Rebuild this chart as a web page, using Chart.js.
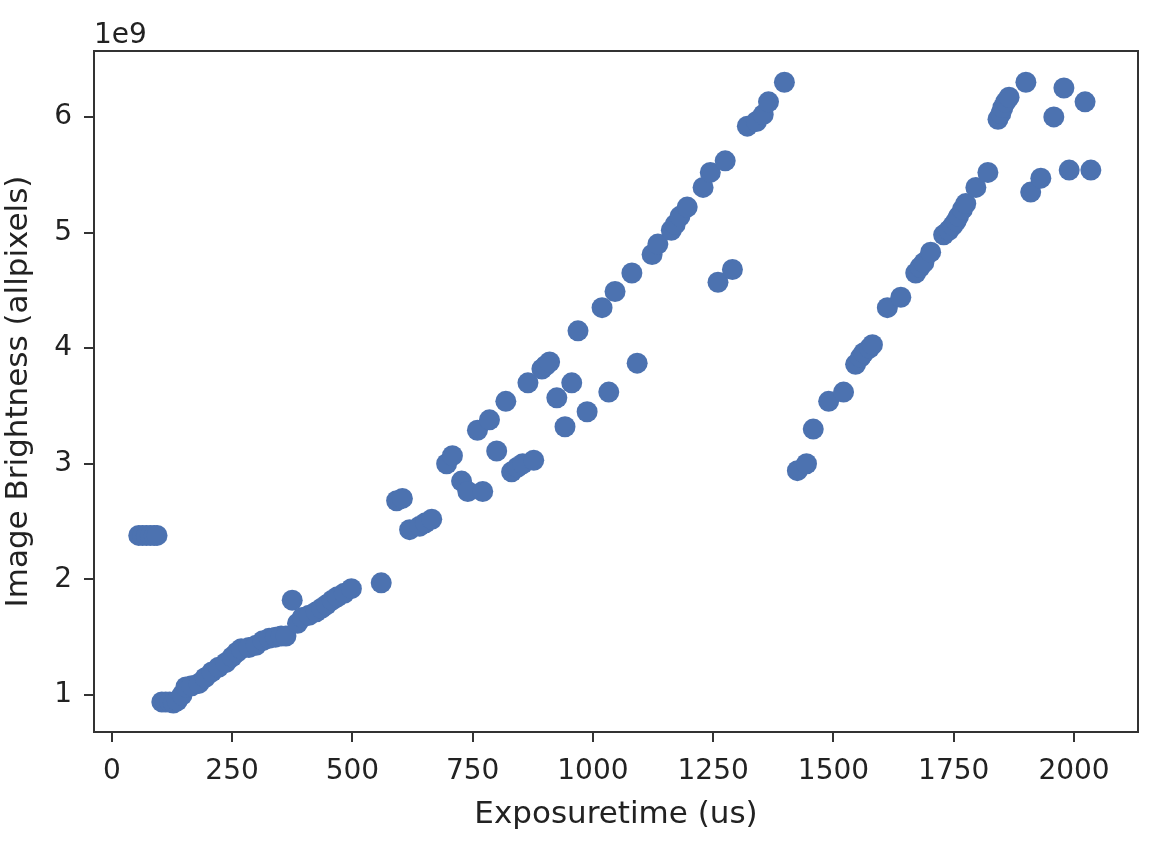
<!DOCTYPE html>
<html>
<head>
<meta charset="utf-8">
<script src="https://cdn.jsdelivr.net/npm/chart.js@4"></script>
<style>
  html, body { margin: 0; padding: 0; background: #fff; }
  canvas { display: block; }
</style>
</head>
<body>
<canvas id="grafico" width="1157" height="846"></canvas>
<script>
// Exposure time (us) and image brightness (units of 1e9)
const exposureTimes = [
  56, 64, 72, 80, 88, 94,
  104, 112, 120, 128, 136, 146, 154, 166, 181, 194, 208, 222, 237, 250,
  260, 269, 285, 300, 314, 327, 340, 352, 362, 375, 386, 396, 410, 425,
  436, 446, 458, 469, 483, 498, 560,
  592, 604, 619, 640, 652, 665, 696, 708, 727, 740, 760, 771, 785, 800,
  819, 831, 843, 854, 865, 877, 894, 902, 910, 925, 942, 956, 969, 988,
  1019, 1033, 1046, 1081, 1092, 1123, 1135, 1163, 1171, 1181, 1196, 1229,
  1244, 1260, 1275, 1290, 1321, 1340, 1354, 1365, 1398,
  1425, 1444, 1458, 1490, 1521, 1546, 1556, 1563, 1575, 1581, 1612, 1640,
  1671, 1680, 1688, 1702, 1729, 1740, 1748, 1755, 1760, 1768, 1775, 1796,
  1821, 1842, 1848, 1852, 1858, 1865, 1900, 1910, 1931, 1958, 1979, 1990,
  2023, 2035
];
const brightness = [
  2.38, 2.38, 2.38, 2.38, 2.38, 2.38,
  0.94, 0.94, 0.94, 0.93, 0.95, 1.00, 1.07, 1.08, 1.10, 1.15, 1.20, 1.24, 1.28, 1.33,
  1.37, 1.40, 1.41, 1.43, 1.47, 1.49, 1.50, 1.51, 1.51, 1.82, 1.62, 1.67, 1.69, 1.72,
  1.75, 1.78, 1.82, 1.85, 1.88, 1.92, 1.97,
  2.68, 2.70, 2.43, 2.46, 2.49, 2.52, 3.00, 3.07, 2.85, 2.76, 3.29, 2.76, 3.38, 3.11,
  3.54, 2.93, 2.97, 3.00, 3.70, 3.03, 3.82, 3.85, 3.88, 3.57, 3.32, 3.70, 4.15, 3.45,
  4.35, 3.62, 4.49, 4.65, 3.87, 4.81, 4.90, 5.02, 5.07, 5.14, 5.22, 5.39,
  5.52, 4.57, 5.62, 4.68, 5.92, 5.96, 6.02, 6.13, 6.30,
  2.94, 3.00, 3.30, 3.54, 3.62, 3.86, 3.92, 3.96, 4.00, 4.03, 4.35, 4.44,
  4.65, 4.70, 4.74, 4.83, 4.98, 5.02, 5.06, 5.10, 5.14, 5.20, 5.25, 5.39,
  5.52, 5.98, 6.03, 6.08, 6.13, 6.17, 6.30, 5.35, 5.47, 6.00, 6.25, 5.54,
  6.13, 5.54
];
const xTicks = [0, 250, 500, 750, 1000, 1250, 1500, 1750, 2000];
const yTicks = [1, 2, 3, 4, 5, 6];

const corTexto = '#222';
const corEixo = '#333';
const fonteTicks = { family: 'DejaVu Sans', size: 28 };
const fonteTitulo = { family: 'DejaVu Sans', size: 31 };

// Moldura completa e o fator "1e9" no topo do eixo y
const moldura = {
  id: 'moldura',
  afterDraw(chart) {
    const { ctx, chartArea: a } = chart;
    ctx.save();
    ctx.strokeStyle = corEixo;
    ctx.lineWidth = 2;
    ctx.strokeRect(a.left, a.top, a.right - a.left, a.bottom - a.top);
    ctx.fillStyle = corTexto;
    ctx.font = '28px "DejaVu Sans"';
    ctx.textAlign = 'left';
    ctx.textBaseline = 'alphabetic';
    ctx.fillText('1e9', a.left, a.top - 8);
    ctx.restore();
  }
};

const pontos = exposureTimes.map((x, i) => ({ x: x, y: brightness[i] }));

new Chart(document.getElementById('grafico'), {
  type: 'scatter',
  data: {
    datasets: [{
      data: pontos,
      backgroundColor: '#4c72b0',
      borderWidth: 0,
      pointRadius: 10.5,
      pointHoverRadius: 10.5
    }]
  },
  options: {
    responsive: false,
    animation: false,
    devicePixelRatio: 1,
    layout: { padding: { top: 51, right: 19, left: 0, bottom: 0 } },
    plugins: { legend: { display: false }, tooltip: { enabled: false } },
    scales: {
      x: {
        type: 'linear',
        min: -37,
        max: 2133,
        afterBuildTicks: (scale) => { scale.ticks = xTicks.map(v => ({ value: v })); },
        afterFit: (scale) => { scale.height = 114; },
        border: { display: false },
        grid: { drawOnChartArea: false, drawTicks: true, tickLength: 10, color: corEixo, lineWidth: 2 },
        ticks: { color: corTexto, font: fonteTicks, padding: 13, maxRotation: 0, callback: (v) => String(v) },
        title: { display: true, text: 'Exposuretime (us)', color: corTexto, font: fonteTitulo, padding: { top: 0, bottom: 12 } }
      },
      y: {
        type: 'linear',
        min: 0.68,
        max: 6.57,
        afterBuildTicks: (scale) => { scale.ticks = yTicks.map(v => ({ value: v })); },
        afterFit: (scale) => { scale.width = 94; },
        border: { display: false },
        grid: { drawOnChartArea: false, drawTicks: true, tickLength: 10, color: corEixo, lineWidth: 2 },
        ticks: { color: corTexto, font: fonteTicks, padding: 12, callback: (v) => String(v) },
        title: { display: true, text: 'Image Brightness (allpixels)', color: corTexto, font: fonteTitulo, padding: { top: 0, bottom: 0 } }
      }
    }
  },
  plugins: [moldura]
});
</script>
</body>
</html>
